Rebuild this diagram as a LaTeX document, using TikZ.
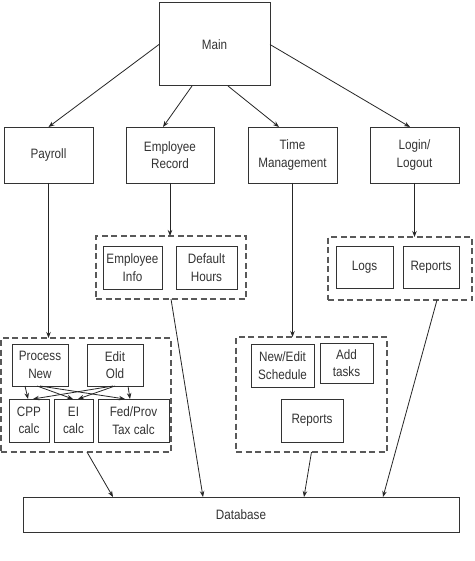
\documentclass[tikz,border=0pt]{standalone}
\usepackage{fontspec}
\setmainfont[FakeStretch=0.86]{Liberation Sans}
\usetikzlibrary{arrows.meta}
\begin{document}
\begin{tikzpicture}[x=1pt,y=-1pt,
  font=\fontsize{13.6}{17.5}\selectfont,
  every node/.style={inner sep=0pt,outer sep=0pt,align=center,text=black!80},
  box/.style={draw=black!80,line width=0.9pt,fill=white},
  grp/.style={draw=black!65,line width=1.3pt,dash pattern=on 6pt off 3.5pt},
  arr/.style={draw=black!85,line width=0.8pt,-{Stealth[length=6pt,width=4.5pt]}}]
\useasboundingbox[fill=white] (0,0) rectangle (474,561);
% top levels
\node[box,line width=1pt,minimum width=111pt,minimum height=83pt] (main) at (214.5,44.5) {Main};
\node[box,minimum width=89pt,minimum height=56pt] (payroll) at (48.5,155) {Payroll};
\node[box,minimum width=88pt,minimum height=56pt] (emprec) at (170,155) {Employee\\Record};
\node[box,minimum width=89pt,minimum height=56pt] (time) at (292.5,155) {Time\\Management};
\node[box,minimum width=89pt,minimum height=56pt] (login) at (414.5,155) {Login/\\Logout};
% groups
\node[grp,minimum width=150pt,minimum height=63pt] (empgrp) at (171,267.5) {};
\node[box,minimum width=59pt,minimum height=43pt] (empinfo) at (132.5,267.5) {Employee\\Info};
\node[box,minimum width=61pt,minimum height=43pt] (defhours) at (206.5,267.5) {Default\\Hours};
\node[grp,minimum width=144pt,minimum height=63pt] (logingrp) at (400,268.5) {};
\node[box,minimum width=57pt,minimum height=42pt] (logs) at (364.5,267.5) {Logs};
\node[box,minimum width=56pt,minimum height=42pt] (lreports) at (431,267.5) {Reports};
\node[grp,minimum width=170pt,minimum height=114pt] (paygrp) at (86,395) {};
\node[box,minimum width=56pt,minimum height=42pt] (procnew) at (40,365) {Process\\New};
\node[box,minimum width=56pt,minimum height=42pt] (editold) at (115,365) {Edit\\Old};
\node[box,minimum width=40pt,minimum height=43pt] (cpp) at (29,420.5) {CPP\\calc};
\node[box,minimum width=39pt,minimum height=43pt] (ei) at (73.5,420.5) {EI\\calc};
\node[box,minimum width=71pt,minimum height=43pt] (fed) at (133.5,420.5) {Fed/Prov\\Tax calc};
\node[grp,minimum width=151pt,minimum height=115pt] (timegrp) at (311.5,394.5) {};
\node[box,minimum width=63pt,minimum height=43pt] (newedit) at (282.5,365.5) {New/Edit\\Schedule};
\node[box,minimum width=53pt,minimum height=40pt] (addtasks) at (346.5,363) {Add\\tasks};
\node[box,minimum width=62pt,minimum height=43pt] (treports) at (312,420.5) {Reports};
\node[box,minimum width=436pt,minimum height=35pt] (db) at (241,514.5) {Database};
% arrows from main
\draw[arr] (main.west) -- (payroll.north);
\draw[arr] ([xshift=-22.5pt]main.south) -- ([xshift=-7pt]emprec.north);
\draw[arr] ([xshift=13.5pt]main.south) -- ([xshift=-13.5pt]time.north);
\draw[arr] (main.east) -- ([xshift=-4.5pt]login.north);
% down to groups
\draw[arr] (payroll.south) -- (payroll.south |- paygrp.north);
\draw[arr] (emprec.south) -- (emprec.south |- empgrp.north);
\draw[arr] (time.south) -- (time.south |- timegrp.north);
\draw[arr] (login.south) -- (login.south |- logingrp.north);
% payroll crossings
\draw[arr] ([xshift=-15pt]procnew.south) -- ([xshift=-1pt]cpp.north);
\draw[arr] ([xshift=-3pt]procnew.south) -- ([xshift=-0.5pt]ei.north);
\draw[arr] (procnew.south) -- ([xshift=-8.5pt]fed.north);
\draw[arr] ([xshift=-2pt]editold.south) -- ([xshift=4pt]cpp.north);
\draw[arr] (editold.south) -- ([xshift=4.5pt]ei.north);
\draw[arr] ([xshift=13pt]editold.south) -- ([xshift=-3.5pt]fed.north);
% to database
\draw[arr] ([xshift=1pt]paygrp.south) -- ([xshift=-128pt]db.north);
\draw[arr] (empgrp.south) -- ([xshift=-38pt]db.north);
\draw[arr] (timegrp.south) -- ([xshift=63pt]db.north);
\draw[arr] ([xshift=37pt]logingrp.south) -- ([xshift=142pt]db.north);
\end{tikzpicture}
\end{document}
